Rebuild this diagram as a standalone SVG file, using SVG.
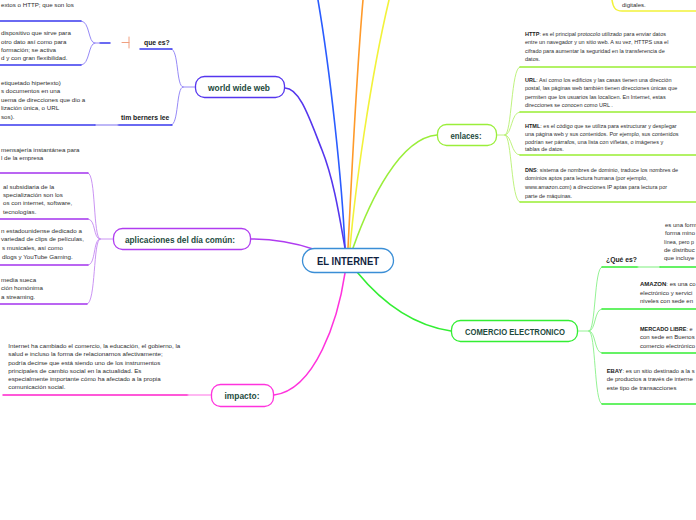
<svg xmlns="http://www.w3.org/2000/svg" width="696" height="520" viewBox="0 0 696 520">
<style>
.t{font-family:"Liberation Sans",Arial,sans-serif;fill:#2e2e2e}
.s{font-size:6.2px}
.e{font-size:5.5px}
.c{font-size:6px}
.b{font-weight:bold;fill:#1a1a1a}
.lbl{font-family:"Liberation Sans",Arial,sans-serif;font-weight:bold;fill:#1d4b3d;text-anchor:middle}
.sub{font-family:"Liberation Sans",Arial,sans-serif;font-weight:bold;fill:#1a1a1a;font-size:6.8px}
.n{fill:#fff;stroke-width:1.3}
#connectors path{fill:none;stroke-linecap:round}
.m{stroke-width:1.6}
.u{stroke-width:1.5}
.k{stroke-width:0.9}
</style>
<rect width="696" height="520" fill="#fff"/>
<g id="connectors">
  <path class="m" stroke="#2a5cff" d="M345,248 C342,180 330,70 318,0"/>
  <path class="m" stroke="#ff9a2a" d="M348,248 C352,170 356,80 363,0"/>
  <path class="m" stroke="#f2f23a" d="M350,248 C355,190 370,80 389,0"/>
  <path class="m" stroke="#5536ee" d="M285,88 C300,88 310,120 322,150 S340,220 345,248"/>
  <path class="m" stroke="#9aee3a" d="M437,135 C400,138 370,200 353,248"/>
  <path class="m" stroke="#33ee33" d="M357,272 C380,300 410,325 451,331"/>
  <path class="m" stroke="#ff33dd" d="M345,273 C338,320 315,390 274,395"/>
  <path class="m" stroke="#b03cf0" d="M251,239 C275,239 295,243 313,249"/>
  <path class="u" stroke="#f2f23a" d="M612,0 C613,7 615,11 622,11 L696,11"/>
  <path class="k" stroke="#8a7cf5" d="M195,87 L183,87"/>
  <path class="k" stroke="#8a7cf5" d="M183,87 C176,87 179,49 171,49"/>
  <path class="k" stroke="#8a7cf5" d="M183,87 C176,87 179,125 171,125"/>
  <path class="u" stroke="#3a3aee" d="M140,49 L172,49"/>
  <path class="u" stroke="#3a3aee" d="M118,125 L172,125"/>
  <path class="u" stroke="#a8a0f5" d="M95,125 L118,125"/>
  <path class="u" stroke="#3a3aee" d="M0,125 L95,125"/>
  <path class="u" stroke="#3a3aee" d="M100,43 L110,43"/>
  <path class="k" stroke="#8a7cf5" d="M100,43 L95,43 C88,43 90,21 81,21"/>
  <path class="k" stroke="#8a7cf5" d="M95,43 C88,43 90,65 81,65"/>
  <path class="u" stroke="#3a3aee" d="M0,21 L81,21"/>
  <path class="u" stroke="#3a3aee" d="M0,65 L81,65"/>
  <path stroke="#f0a080" stroke-width="1" d="M122,42.5 L129,42.5 M129,37 L129,48"/>
  <path class="k" stroke="#c488f2" d="M113,239 L100,239"/>
  <path class="k" stroke="#c488f2" d="M100,239 C93,239 96,173 88,173"/>
  <path class="k" stroke="#c488f2" d="M100,239 C93,239 96,219 88,219"/>
  <path class="k" stroke="#c488f2" d="M100,239 C93,239 96,265 88,265"/>
  <path class="k" stroke="#c488f2" d="M100,239 C93,239 96,304 87,304"/>
  <path class="u" stroke="#a433ee" d="M0,173 L88,173"/>
  <path class="u" stroke="#a433ee" d="M0,219 L88,219"/>
  <path class="u" stroke="#a433ee" d="M0,265 L88,265"/>
  <path class="u" stroke="#a433ee" d="M0,304 L87,304"/>
  <path class="k" stroke="#b8f070" d="M497,135 L505,135"/>
  <path class="k" stroke="#b8f070" d="M505,135 C512,135 511,67 520,67"/>
  <path class="k" stroke="#b8f070" d="M505,135 C512,135 511,112 520,112"/>
  <path class="k" stroke="#b8f070" d="M505,135 C512,135 511,155 520,155"/>
  <path class="k" stroke="#b8f070" d="M505,135 C512,135 511,202 520,202"/>
  <path class="u" stroke="#99ee33" d="M520,67 L696,67"/>
  <path class="u" stroke="#99ee33" d="M520,112 L696,112"/>
  <path class="u" stroke="#99ee33" d="M520,155 L696,155"/>
  <path class="u" stroke="#99ee33" d="M520,202 L696,202"/>
  <path class="k" stroke="#88f088" d="M578,331 L589,331"/>
  <path class="k" stroke="#88f088" d="M589,331 C596,331 594,267 602,267"/>
  <path class="k" stroke="#88f088" d="M589,331 C596,331 594,309 602,309"/>
  <path class="k" stroke="#88f088" d="M589,331 C596,331 594,353 602,353"/>
  <path class="k" stroke="#88f088" d="M589,331 C596,331 594,404 602,404"/>
  <path class="u" stroke="#33ee33" d="M602,267 L638,267"/>
  <path class="u" stroke="#a8f5a8" d="M638,267 L660,267"/>
  <path class="u" stroke="#33ee33" d="M660,267 L696,267"/>
  <path class="u" stroke="#33ee33" d="M602,309 L696,309"/>
  <path class="u" stroke="#33ee33" d="M602,353 L696,353"/>
  <path class="u" stroke="#33ee33" d="M602,404 L696,404"/>
  <path class="u" stroke="#ff22cc" d="M3,395 L188,395"/>
  <path class="u" stroke="#ffa0ee" d="M188,395 L211,395"/>
</g>

<g id="node-internet">
  <rect class="n" x="302.5" y="248.5" width="91" height="24" rx="12" stroke="#3a8ed6"/>
  <text class="lbl" x="348" y="264.5" font-size="11" style="fill:#0f2340" textLength="62" lengthAdjust="spacingAndGlyphs">EL INTERNET</text>
</g>
<g id="node-www">
  <rect class="n" x="195.5" y="76.5" width="89" height="21" rx="9" stroke="#5536ee"/>
  <text class="lbl" x="239" y="90.5" font-size="9" textLength="62" lengthAdjust="spacingAndGlyphs">world wide web</text>
</g>
<g id="node-enlaces">
  <rect class="n" x="437.5" y="124.5" width="59" height="21" rx="9" stroke="#9aee3a"/>
  <text class="lbl" x="466" y="138.5" font-size="9" textLength="31" lengthAdjust="spacingAndGlyphs">enlaces:</text>
</g>
<g id="node-aplicaciones">
  <rect class="n" x="113.5" y="228.5" width="137" height="21" rx="9" stroke="#b03cf0"/>
  <text class="lbl" x="180" y="242.5" font-size="9" textLength="110" lengthAdjust="spacingAndGlyphs">aplicaciones del día común:</text>
</g>
<g id="node-impacto">
  <rect class="n" x="211.5" y="384.5" width="62" height="22" rx="9" stroke="#ff33dd"/>
  <text class="lbl" x="242" y="398.5" font-size="9" textLength="35" lengthAdjust="spacingAndGlyphs">impacto:</text>
</g>
<g id="node-comercio">
  <rect class="n" x="451.5" y="320.5" width="126" height="21" rx="9" stroke="#33ee33"/>
  <text class="lbl" x="515" y="334.5" font-size="9" textLength="100" lengthAdjust="spacingAndGlyphs">COMERCIO ELECTRONICO</text>
</g>

<g id="www-children">
  <text class="t s" x="1" y="7">extos o HTTP; que son los</text>
  <text class="sub" x="144" y="44.5">que es?</text>
  <g id="www-que-es-text">
    <text class="t s" x="1" y="35.3">dispositivo que sirve para</text>
    <text class="t s" x="1" y="44.3">otro dato así como para</text>
    <text class="t s" x="1" y="52">formación; se activa</text>
    <text class="t s" x="1" y="60.3">d y con gran flexibilidad.</text>
  </g>
  <text class="sub" x="121" y="120">tim berners lee</text>
  <g id="www-tim-text">
    <text class="t s" x="1" y="84.7">etiquetado hipertexto)</text>
    <text class="t s" x="1" y="93">s documentos en una</text>
    <text class="t s" x="1" y="102">uema de direcciones que dio a</text>
    <text class="t s" x="1" y="110.3">lización única, o URL</text>
    <text class="t s" x="1" y="118.7">sos).</text>
  </g>
</g>

<g id="aplicaciones-children">
  <text class="t s" x="1" y="152">mensajería instantánea para</text>
  <text class="t s" x="1" y="160.3">l de la empresa</text>
  <text class="t s" x="3" y="188.7">al subsidiaria de la</text>
  <text class="t s" x="3" y="197">specialización son los</text>
  <text class="t s" x="3" y="205.3">os con internet, software,</text>
  <text class="t s" x="3" y="213.7">tecnologías.</text>
  <text class="t s" x="1" y="233">n estadounidense dedicado a</text>
  <text class="t s" x="1" y="241.3">variedad de clips de películas,</text>
  <text class="t s" x="2" y="249.7">s musicales, así como</text>
  <text class="t s" x="2" y="258.7">dlogs y YouTube Gaming.</text>
  <text class="t s" x="1" y="282">media sueca</text>
  <text class="t s" x="1" y="290.3">ción homónima</text>
  <text class="t s" x="1" y="298.7">a streaming.</text>
</g>

<g id="impacto-children">
  <text class="t s" x="8.3" y="348">Internet ha cambiado el comercio, la educación, el gobierno, la</text>
  <text class="t s" x="8.3" y="356">salud e incluso la forma de relacionarnos afectivamente;</text>
  <text class="t s" x="8.3" y="364.7">podría decirse que está siendo uno de los instrumentos</text>
  <text class="t s" x="8.3" y="372.7">principales de cambio social en la actualidad. Es</text>
  <text class="t s" x="8.3" y="381.3">especialmente importante cómo ha afectado a la propia</text>
  <text class="t s" x="8.3" y="389.3">comunicación social.</text>
</g>

<g id="yellow-child">
  <text class="t c" x="622" y="7">digitales.</text>
</g>

<g id="enlaces-children">
  <text class="t e" x="525" y="35.5"><tspan class="b">HTTP</tspan>: es el principal protocolo utilizado para enviar datos</text>
  <text class="t e" x="525" y="44.3">entre un navegador y un sitio web. A su vez, HTTPS usa el</text>
  <text class="t e" x="525" y="53">cifrado para aumentar la seguridad en la transferencia de</text>
  <text class="t e" x="525" y="61.3">datos.</text>
  <text class="t e" x="525" y="82"><tspan class="b">URL</tspan>: Así como los edificios y las casas tienen una dirección</text>
  <text class="t e" x="525" y="90.3">postal, las páginas web también tienen direcciones únicas que</text>
  <text class="t e" x="525" y="98.7">permiten que los usuarios las localicen. En Internet, estas</text>
  <text class="t e" x="525" y="107">direcciones se conocen como URL .</text>
  <text class="t e" x="525" y="128"><tspan class="b">HTML</tspan>: es el código que se utiliza para estructurar y desplegar</text>
  <text class="t e" x="525" y="136">una página web y sus contenidos. Por ejemplo, sus contenidos</text>
  <text class="t e" x="525" y="143.7">podrían ser párrafos, una lista con viñetas, o imágenes y</text>
  <text class="t e" x="525" y="151.3">tablas de datos.</text>
  <text class="t e" x="525" y="171.5"><tspan class="b">DNS</tspan>: sistema de nombres de dominio, traduce los nombres de</text>
  <text class="t e" x="525" y="180">dominios aptos para lectura humana (por ejemplo,</text>
  <text class="t e" x="525" y="188.5">www.amazon.com) a direcciones IP aptas para lectura por</text>
  <text class="t e" x="525" y="197.5">parte de máquinas.</text>
</g>

<g id="comercio-children">
  <text class="sub" x="606" y="261.5">¿Qué es?</text>
  <text class="t c" x="665" y="227">es una form</text>
  <text class="t c" x="665" y="235.3">forma mino</text>
  <text class="t" x="664" y="243.7" font-size="5.4">línea, pero p</text>
  <text class="t c" x="664" y="252">de distribuc</text>
  <text class="t c" x="664" y="260.3">que incluye</text>
  <text class="t c" x="640" y="286"><tspan class="b">AMAZON</tspan>: es una co</text>
  <text class="t c" x="640" y="294.7">electrónico y servici</text>
  <text class="t c" x="640" y="303">niveles con sede en</text>
  <text class="t" x="640" y="331" font-size="5.5"><tspan class="b">MERCADO LIBRE</tspan>: e</text>
  <text class="t c" x="640" y="339.3">con sede en Buenos</text>
  <text class="t c" x="640" y="347.5">comercio electrónico</text>
  <text class="t c" x="606.7" y="372.7" textLength="88" lengthAdjust="spacingAndGlyphs"><tspan class="b">EBAY</tspan>: es un sitio destinado a la s</text>
  <text class="t c" x="606.7" y="381.3">de productos a través de interne</text>
  <text class="t c" x="606.7" y="389.7">este tipo de transacciones</text>
</g>
</svg>
